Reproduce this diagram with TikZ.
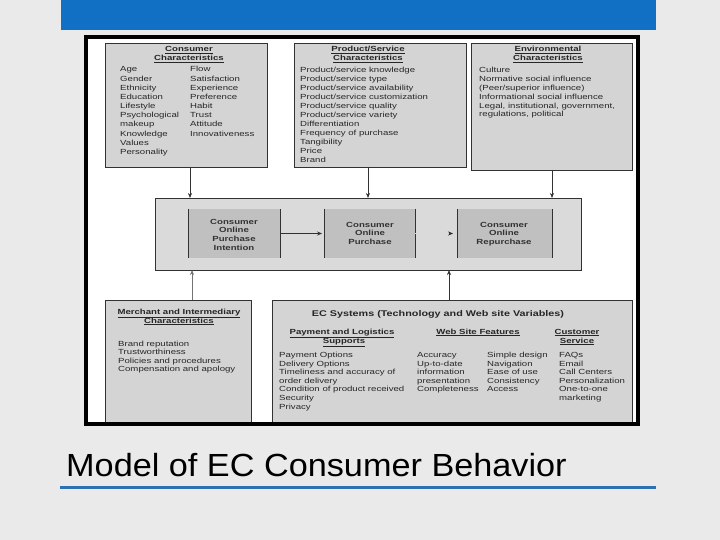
\documentclass[tikz,border=0pt]{standalone}
\usepackage{fontspec}
\setmainfont{Liberation Sans}
\newfontfamily\df[FakeStretch=1.3]{Liberation Sans}
\newfontfamily\tf[FakeStretch=1.07]{Liberation Sans}
\usetikzlibrary{arrows.meta}
\definecolor{slidebg}{RGB}{234,234,234}
\definecolor{barblue}{RGB}{17,112,196}
\definecolor{rulebl}{RGB}{46,112,178}
\definecolor{boxfill}{RGB}{212,212,212}
\definecolor{bandfill}{RGB}{218,218,218}
\definecolor{innerfill}{RGB}{192,192,192}
\definecolor{edge}{RGB}{50,50,50}
\tikzset{
  box/.style={draw=edge, fill=boxfill, line width=0.7pt, inner sep=0pt, outer sep=0pt, anchor=north west},
  band/.style={draw=edge, fill=bandfill, line width=0.7pt, inner sep=0pt, outer sep=0pt, anchor=north west},
  inner/.style={fill=innerfill, inner sep=0pt, outer sep=0pt, anchor=north west},
  txt/.style={anchor=base west, inner sep=0pt, font=\df\fontsize{7.4}{8}\selectfont, text=black!85},
  ttl/.style={anchor=base, inner sep=0pt, font=\df\bfseries\fontsize{7.4}{8}\selectfont, text=black!85},
  ctr/.style={anchor=base, inner sep=0pt, font=\df\bfseries\fontsize{7.4}{8}\selectfont, text=black!80},
  arr/.style={draw=edge, line width=0.7pt, -{Stealth[length=5pt,width=4pt]}},
}
\begin{document}
\begin{tikzpicture}[x=1pt,y=-1pt]
\useasboundingbox (0,0) rectangle (720,540);
\fill[slidebg] (0,0) rectangle (720,540);
\fill[barblue] (61,0) rectangle (656,30);
\draw[line width=4pt, fill=white] (86,37) rectangle (638,424);

% top boxes
\node[box, minimum width=162pt, minimum height=124pt] (cc) at (105,43) {};
\node[box, minimum width=172pt, minimum height=124pt] (ps) at (294,43) {};
\node[box, minimum width=161pt, minimum height=127pt] (en) at (471,43) {};

% middle band
\node[band, minimum width=426pt, minimum height=72pt] (band) at (155,198) {};
\node[inner, minimum width=92pt, minimum height=49pt] (int) at (188,209) {};
\node[inner, minimum width=91pt, minimum height=49pt] (pur) at (324,209) {};
\node[inner, minimum width=95pt, minimum height=49pt] (rep) at (457,209) {};
\foreach \b in {int,pur,rep}{
  \draw[edge, line width=0.7pt] (\b.north west) -- (\b.south west);
  \draw[edge, line width=0.7pt] (\b.north east) -- (\b.south east);
}

% bottom boxes
\node[box, minimum width=146pt, minimum height=122pt] (mi) at (105,300) {};
\node[box, minimum width=360pt, minimum height=122pt] (ec) at (272,300) {};
\draw[line width=4pt] (86,424) -- (638,424);

% connectors
\coordinate (a1) at (190,0);
\coordinate (a2) at (368,0);
\coordinate (a3) at (552,0);
\coordinate (a4) at (192,0);
\coordinate (a5) at (449,0);
\draw[arr] (cc.south -| a1) -- (band.north -| a1);
\draw[arr] (ps.south -| a2) -- (band.north -| a2);
\draw[arr] (en.south -| a3) -- (band.north -| a3);
\draw[arr, draw=black!55] (mi.north -| a4) -- (band.south -| a4);
\draw[arr] (ec.north -| a5) -- (band.south -| a5);
\draw[arr] (int.east) -- ([xshift=-2pt]pur.west);
\draw[draw=bandfill, line width=0.7pt, -{Stealth[length=5pt,width=4pt,black!85]}] (pur.east) -- ([xshift=-4pt]rep.west);

% consumer characteristics
\node[ttl] (cct1) at (189,52) {\underline{Consumer}};
\node[ttl] (cct2) at (189,61) {\underline{Characteristics}};
\foreach \t [count=\i] in {Age,Gender,Ethnicity,Education,Lifestyle,Psychological,makeup,Knowledge,Values,Personality}
  \node[txt] (ccl\i) at (120,{72+9.15*(\i-1)}) {\t};
\foreach \t [count=\i] in {Flow,Satisfaction,Experience,Preference,Habit,Trust,Attitude,Innovativeness}
  \node[txt] (ccr\i) at (190,{72+9.15*(\i-1)}) {\t};

% product/service
\node[ttl] (pst1) at (368,52) {\underline{Product/Service}};
\node[ttl] (pst2) at (368,61) {\underline{Characteristics}};
\foreach \t [count=\i] in {Product/service knowledge,Product/service type,Product/service availability,Product/service customization,Product/service quality,Product/service variety,Differentiation,Frequency of purchase,Tangibility,Price,Brand}
  \node[txt] (psl\i) at (300,{72.5+9*(\i-1)}) {\t};

% environmental
\node[ttl] (ent1) at (548,52) {\underline{Environmental}};
\node[ttl] (ent2) at (548,61) {\underline{Characteristics}};
\foreach \t [count=\i] in {Culture,Normative social influence,(Peer/superior influence),Informational social influence,{Legal, institutional, government,},{regulations, political}}
  \node[txt] (enl\i) at (479,{73+8.8*(\i-1)}) {\t};

% middle texts
\foreach \t [count=\i] in {Consumer,Online,Purchase,Intention}
  \node[ctr] (intl\i) at (234,{224.5+8.5*(\i-1)}) {\t};
\foreach \t [count=\i] in {Consumer,Online,Purchase}
  \node[ctr] (purl\i) at (370,{227.5+8.5*(\i-1)}) {\t};
\foreach \t [count=\i] in {Consumer,Online,Repurchase}
  \node[ctr] (repl\i) at (504,{227.5+8.5*(\i-1)}) {\t};

% merchant
\node[ttl] (mit1) at (179,314) {\underline{Merchant and Intermediary}};
\node[ttl] (mit2) at (179,323) {\underline{Characteristics}};
\foreach \t [count=\i] in {Brand reputation,Trustworthiness,Policies and procedures,Compensation and apology}
  \node[txt] (mil\i) at (118,{346+8.5*(\i-1)}) {\t};

% EC systems
\node[ttl, font=\df\bfseries\fontsize{8.3}{9}\selectfont] (ect) at (438,316.5) {EC Systems (Technology and Web site Variables)};
\node[ttl] (pay1) at (342,334) {\underline{Payment and Logistics}};
\node[ttl] (pay2) at (344,343) {\underline{Supports}};
\node[ttl] (web) at (478,334) {\underline{Web Site Features}};
\node[ttl] (cus1) at (577,334) {\underline{Customer}};
\node[ttl] (cus2) at (577,343) {\underline{Service}};
\foreach \t [count=\i] in {Payment Options,Delivery Options,Timeliness and accuracy of,order delivery,Condition of product received,Security,Privacy}
  \node[txt] (payl\i) at (279,{357.5+8.6*(\i-1)}) {\t};
\foreach \t [count=\i] in {Accuracy,Up-to-date,information,presentation,Completeness}
  \node[txt] (webl\i) at (417,{357.5+8.6*(\i-1)}) {\t};
\foreach \t [count=\i] in {Simple design,Navigation,Ease of use,Consistency,Access}
  \node[txt] (webr\i) at (487,{357.5+8.6*(\i-1)}) {\t};
\foreach \t [count=\i] in {FAQs,Email,Call Centers,Personalization,One-to-one,marketing}
  \node[txt] (cusl\i) at (559,{357.5+8.6*(\i-1)}) {\t};

% slide title
\node[anchor=base west, inner sep=0pt, font=\tf\fontsize{32}{36}\selectfont] (title) at (66,476) {Model of EC Consumer Behavior};
\draw[rulebl, line width=3pt] (60,487) -- (656,487);
\end{tikzpicture}
\end{document}
